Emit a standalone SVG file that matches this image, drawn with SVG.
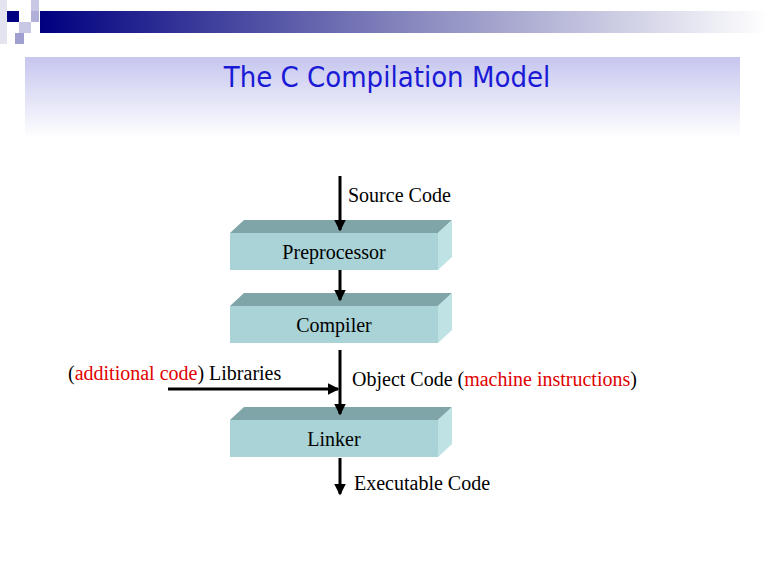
<svg xmlns="http://www.w3.org/2000/svg" width="768" height="576" viewBox="0 0 768 576">
<defs>
<linearGradient id="bar" x1="0" y1="0" x2="1" y2="0"><stop offset="0" stop-color="#000080"/><stop offset="0.5" stop-color="#8585bd"/><stop offset="1" stop-color="#ffffff"/></linearGradient>
<linearGradient id="tbox" x1="0" y1="0" x2="0" y2="1"><stop offset="0" stop-color="#c6c6ef"/><stop offset="1" stop-color="#ffffff"/></linearGradient>
<marker id="ah" markerWidth="4" markerHeight="4" refX="3.5" refY="2" orient="auto" markerUnits="strokeWidth"><path d="M0,0 L4,2 L0,4 z" fill="#000"/></marker>
</defs>
<style>
.front{fill:#a9d3d6}.top{fill:#7fa5a8}.side{fill:#bfe2e5}
.lbl{font-family:"Liberation Serif",serif;font-size:20px;fill:#000}
.red{fill:#e00000}
.con{stroke:#000;stroke-width:3;marker-end:url(#ah);fill:none}
</style>
<rect width="768" height="576" fill="#fff"/>
<g id="header">
<rect x="40" y="11" width="728" height="22" fill="url(#bar)"/>
<rect x="0" y="0" width="7" height="44" fill="#e4e4f0"/>
<rect x="7" y="11" width="12" height="11" fill="#000080"/>
<rect x="31" y="0" width="8" height="12" fill="#c8c8e4"/>
<rect x="19" y="22" width="12" height="11" fill="#c8c8e4"/>
<rect x="31" y="11" width="8" height="11" fill="#b0b0d8"/>
<rect x="15" y="33" width="9" height="11" fill="#a0a0d0"/>
</g>
<g id="title">
<rect x="25" y="57" width="715" height="81" fill="url(#tbox)"/>
<text x="387" y="87" text-anchor="middle" font-family="DejaVu Sans Condensed, DejaVu Sans, sans-serif" font-size="29" fill="#1a1ad6">The C Compilation Model</text>
</g>
<g id="preprocessor">
<polygon class="top" points="230,233 244,220 452,220 438,233"/>
<polygon class="side" points="438,233 452,220 452,257 438,270"/>
<rect class="front" x="230" y="233" width="208" height="37"/>
<text class="lbl" x="334" y="259" text-anchor="middle">Preprocessor</text>
</g>
<g id="compiler">
<polygon class="top" points="230,306 244,293 452,293 438,306"/>
<polygon class="side" points="438,306 452,293 452,330 438,343"/>
<rect class="front" x="230" y="306" width="208" height="37"/>
<text class="lbl" x="334" y="332" text-anchor="middle">Compiler</text>
</g>
<g id="linker">
<polygon class="top" points="230,420 244,407 452,407 438,420"/>
<polygon class="side" points="438,420 452,407 452,444 438,457"/>
<rect class="front" x="230" y="420" width="208" height="37"/>
<text class="lbl" x="334" y="446" text-anchor="middle">Linker</text>
</g>
<g id="connectors">
<line class="con" x1="340" y1="176" x2="340" y2="230"/>
<line class="con" x1="340" y1="270" x2="340" y2="300"/>
<line class="con" x1="340" y1="350" x2="340" y2="414"/>
<line class="con" x1="168" y1="389" x2="338" y2="389"/>
<line class="con" x1="340" y1="458" x2="340" y2="494"/>
</g>
<g id="labels">
<text class="lbl" x="348" y="202">Source Code</text>
<text class="lbl" x="68" y="380">(<tspan class="red">additional code</tspan>) Libraries</text>
<text class="lbl" x="352" y="386">Object Code (<tspan class="red">machine instructions</tspan>)</text>
<text class="lbl" x="354" y="490">Executable Code</text>
</g>
</svg>
